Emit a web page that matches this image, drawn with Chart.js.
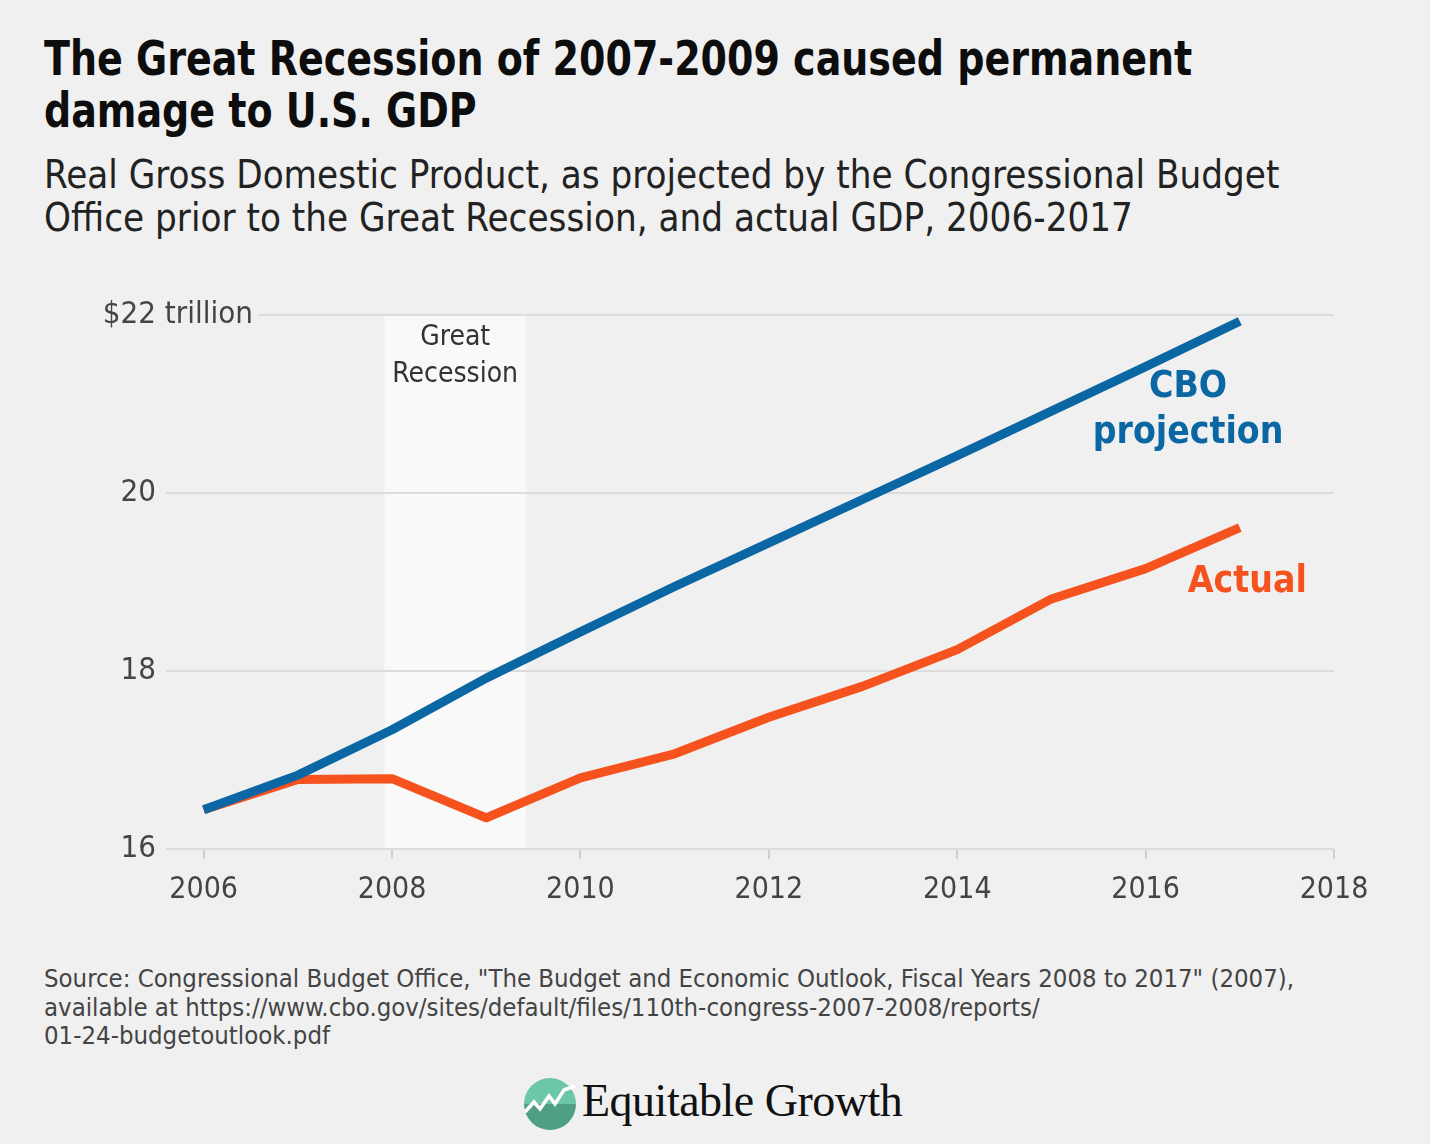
<!DOCTYPE html>
<html>
<head>
<meta charset="utf-8">
<script src="https://cdn.jsdelivr.net/npm/chart.js@4.4.1/dist/chart.umd.min.js"></script>
<style>
  body { margin:0; background:#f0f0f0; width:1430px; height:1148px; position:relative; overflow:hidden;
         font-family:'Liberation Sans Narrow','DejaVu Sans Condensed',sans-serif; color:#111; }
  #title { position:absolute; left:44px; top:32px; font-size:48px; font-weight:bold; line-height:52px; color:#0d0d0d;
           white-space:nowrap; transform:scaleX(0.88); transform-origin:left top; }
  #subtitle { position:absolute; left:44px; top:153px; font-size:39px; line-height:43px; color:#222;
              white-space:nowrap; transform:scaleX(0.978); transform-origin:left top; }
  #wrap { position:absolute; left:0; top:290px; width:1430px; height:640px; }
  #source { position:absolute; left:44px; top:964px; font-size:25.5px; line-height:28.5px; color:#444; white-space:nowrap; }
  #logo { position:absolute; left:522px; top:1076px; }
  #logotext { position:absolute; left:582px; top:1074px; font-family:'Liberation Serif','DejaVu Serif',serif; font-size:46px; color:#111; letter-spacing:-0.5px; }
  #foot { position:absolute; left:0; bottom:0; width:1430px; height:4px; background:#fff; }
</style>
</head>
<body>
<div id="title">The Great Recession of 2007-2009 caused permanent<br>damage to U.S. GDP</div>
<div id="subtitle">Real Gross Domestic Product, as projected by the Congressional Budget<br>Office prior to the Great Recession, and actual GDP, 2006-2017</div>
<div id="wrap"><canvas id="myChart" width="1430" height="640"></canvas></div>
<div id="source">Source: Congressional Budget Office, "The Budget and Economic Outlook, Fiscal Years 2008 to 2017" (2007),<br>available at https://www.cbo.gov/sites/default/files/110th-congress-2007-2008/reports/<br>01-24-budgetoutlook.pdf</div>
<svg id="logo" width="56" height="56" viewBox="0 0 56 56">
  <path d="M2,28 A26,26 0 0 1 54,28 Z" fill="#6cc6aa"/>
  <path d="M2,28 A26,26 0 0 0 54,28 Z" fill="#4f9f84"/>
  <polyline points="3,36 12,26 18,33 27,20 33,28 42,14 53,10" fill="none" stroke="#fff" stroke-width="3.5"/>
</svg>
<div id="logotext">Equitable Growth</div>
<div id="foot"></div>
<script>
var years = [2006, 2007, 2008, 2009, 2010, 2011, 2012, 2013, 2014, 2015, 2016, 2017];
var cboProjection = [16.44, 16.83, 17.34, 17.92, 18.44, 18.95, 19.44, 19.93, 20.42, 20.92, 21.42, 21.93];
var actualGdp = [16.44, 16.78, 16.79, 16.35, 16.80, 17.07, 17.48, 17.83, 18.24, 18.81, 19.15, 19.61];
var xTicks = [2006, 2008, 2010, 2012, 2014, 2016, 2018];
var yTicks = [16, 18, 20, 22];
var yTickLabels = ['16', '18', '20', '$22'];
var recession = [2007.92, 2009.42];

var fontFam = "'Liberation Sans Narrow','DejaVu Sans Condensed',sans-serif";
Chart.defaults.font.family = fontFam;

var blue = '#0b67a3';
var orange = '#f5521d';

var extras = {
  id: 'extras',
  beforeDraw: function(chart) {
    var c = chart.ctx, x = chart.scales.x, y = chart.scales.y;
    var x0 = x.getPixelForValue(recession[0]), x1 = x.getPixelForValue(recession[1]);
    var yt = y.getPixelForValue(22), yb = y.getPixelForValue(16);
    c.save();
    c.fillStyle = '#f9f9f9';
    c.fillRect(x0, yt, x1 - x0, yb - yt);
    c.restore();
  },
  afterDraw: function(chart) {
    var c = chart.ctx, x = chart.scales.x, y = chart.scales.y;
    c.save();
    // y labels
    c.font = '31px ' + fontFam;
    c.fillStyle = '#444';
    c.textBaseline = 'middle';
    var rx = 156;
    for (var i = 0; i < yTicks.length; i++) {
      var py = y.getPixelForValue(yTicks[i]);
      if (i == yTicks.length - 1) {
        c.textAlign = 'left';
        var w = c.measureText(' trillion').width;
        c.fillStyle = '#f0f0f0';
        c.fillRect(rx, py - 6, w + 6, 12);
        c.fillStyle = '#444';
        c.fillText(' trillion', rx, py);
      }
      c.textAlign = 'right';
      c.fillText(yTickLabels[i], rx, py);
    }
    // recession label
    c.textAlign = 'center';
    c.font = '28px ' + fontFam;
    c.fillStyle = '#333';
    c.fillText('Great', x.getPixelForValue(2008.67), y.getPixelForValue(21.74));
    c.fillText('Recession', x.getPixelForValue(2008.67), y.getPixelForValue(21.33));
    // series labels
    c.font = 'bold 37px ' + fontFam;
    c.fillStyle = blue;
    c.fillText('CBO', x.getPixelForValue(2016.45), y.getPixelForValue(21.19));
    c.fillText('projection', x.getPixelForValue(2016.45), y.getPixelForValue(20.67));
    c.fillStyle = orange;
    c.fillText('Actual', x.getPixelForValue(2017.08), y.getPixelForValue(19.0));
    c.restore();
  }
};

var ctx = document.getElementById('myChart').getContext('2d');
var myChart = new Chart(ctx, {
  type: 'line',
  data: {
    labels: years,
    datasets: [{
      label: 'CBO projection',
      data: years.map(function(yr, i) { return {x: yr, y: cboProjection[i]}; }),
      borderColor: blue,
      borderWidth: 9,
      pointRadius: 0,
      borderCapStyle: 'butt',
      borderJoinStyle: 'round',
      fill: false
    }, {
      label: 'Actual',
      data: years.map(function(yr, i) { return {x: yr, y: actualGdp[i]}; }),
      borderColor: orange,
      borderWidth: 9,
      pointRadius: 0,
      borderCapStyle: 'butt',
      borderJoinStyle: 'round',
      fill: false
    }]
  },
  options: {
    responsive: false,
    animation: false,
    layout: { padding: { left: 166, right: 96, top: 25, bottom: 9 } },
    plugins: { legend: { display: false }, tooltip: { enabled: false } },
    scales: {
      x: {
        type: 'linear',
        min: 2005.6,
        max: 2018,
        afterBuildTicks: function(scale) { scale.ticks = xTicks.map(function(v) { return {value: v}; }); },
        grid: { drawOnChartArea: false, drawTicks: true, tickLength: 10, color: '#cfcfcf', lineWidth: 2 },
        border: { display: false },
        ticks: { color: '#444', font: { size: 30 }, padding: 13, maxRotation: 0, autoSkip: false,
                 callback: function(v) { return String(v); } }
      },
      y: {
        min: 16,
        max: 22,
        afterBuildTicks: function(scale) { scale.ticks = yTicks.map(function(v) { return {value: v}; }); },
        grid: { color: '#dcdcdc', lineWidth: 2, drawTicks: false },
        border: { display: false },
        ticks: { display: false }
      }
    }
  },
  plugins: [extras]
});
</script>
</body>
</html>
